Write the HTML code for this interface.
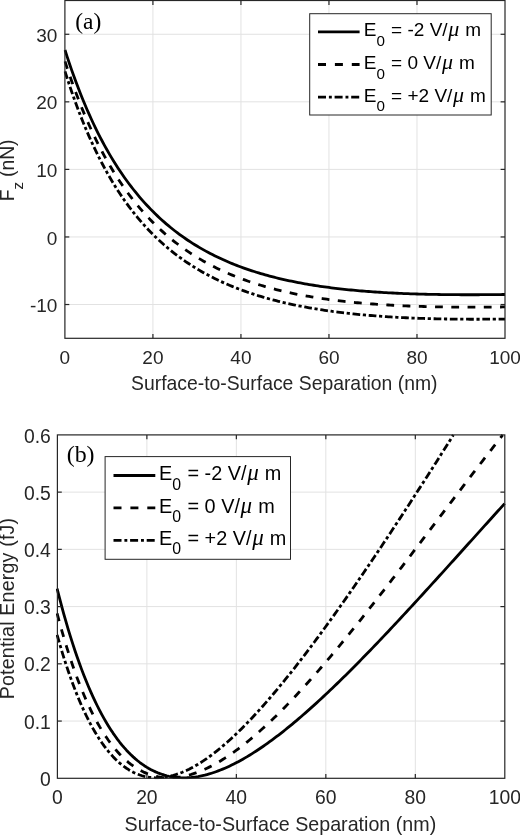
<!DOCTYPE html>
<html><head><meta charset="utf-8"><title>Figure</title>
<style>
html,body{margin:0;padding:0;background:#fff;}
svg{display:block;}
text{font-family:"Liberation Sans",sans-serif;fill:#262626;}
.pa .tk{font-size:19px;}
.pa .lb{font-size:19.35px;}
.pa .lg{font-size:19px;}
.pa .sb{font-size:15.2px;}
.pa .mu{font-size:22px;}
.pa .pl{font-size:23.5px;}
.pb .tk{font-size:19.32px;}
.pb .lb{font-size:19.68px;}
.pb .lg{font-size:19.85px;}
.pb .sb{font-size:15.88px;}
.pb .mu{font-size:22.99px;}
.pb .pl{font-size:23.90px;}
.lg{fill:#000;}
.mu{font-family:"Liberation Serif","DejaVu Serif",serif;font-style:italic;}
.pl{font-family:"Liberation Serif",serif;fill:#000;}
.ax{stroke:#262626;stroke-width:1.2;fill:none;}
.gr{stroke:#e2e2e2;stroke-width:1;fill:none;}
.cv{stroke:#000;stroke-width:2.8;fill:none;stroke-linejoin:round;}
</style></head><body>
<svg width="520" height="835" viewBox="0 0 520 835">
<rect width="520" height="835" fill="#fff"/>
<g class="pa">
<line class="gr" x1="152.92" x2="152.92" y1="0.50" y2="338.30"/>
<line class="gr" x1="240.94" x2="240.94" y1="0.50" y2="338.30"/>
<line class="gr" x1="328.96" x2="328.96" y1="0.50" y2="338.30"/>
<line class="gr" x1="416.98" x2="416.98" y1="0.50" y2="338.30"/>
<line class="gr" y1="304.52" y2="304.52" x1="64.90" x2="505.00"/>
<line class="gr" y1="236.96" y2="236.96" x1="64.90" x2="505.00"/>
<line class="gr" y1="169.40" y2="169.40" x1="64.90" x2="505.00"/>
<line class="gr" y1="101.84" y2="101.84" x1="64.90" x2="505.00"/>
<line class="gr" y1="34.28" y2="34.28" x1="64.90" x2="505.00"/>
<clipPath id="ca"><rect x="63.40" y="-0.50" width="443.10" height="339.80"/></clipPath>
<g clip-path="url(#ca)">
<path class="cv" d="M65.00,50.04 L67.20,56.85 L69.40,63.45 L71.60,69.84 L73.80,76.03 L76.00,82.03 L78.20,87.85 L80.40,93.50 L82.60,98.97 L84.80,104.28 L87.00,109.43 L89.20,114.43 L91.40,119.28 L93.60,123.99 L95.80,128.57 L98.00,133.01 L100.20,137.32 L102.40,141.51 L104.60,145.58 L106.80,149.53 L109.00,153.37 L111.20,157.11 L113.40,160.74 L115.60,164.26 L117.80,167.70 L120.00,171.03 L122.20,174.28 L124.40,177.44 L126.60,180.51 L128.80,183.50 L131.00,186.41 L133.20,189.24 L135.40,191.99 L137.60,194.68 L139.80,197.29 L142.00,199.83 L144.20,202.31 L146.40,204.72 L148.60,207.07 L150.80,209.36 L153.00,211.59 L155.20,213.76 L157.40,215.88 L159.60,217.94 L161.80,219.95 L164.00,221.91 L166.20,223.82 L168.40,225.68 L170.60,227.49 L172.80,229.26 L175.00,230.99 L177.20,232.67 L179.40,234.31 L181.60,235.91 L183.80,237.47 L186.00,238.99 L188.20,240.47 L190.40,241.92 L192.60,243.33 L194.80,244.71 L197.00,246.05 L199.20,247.36 L201.40,248.64 L203.60,249.89 L205.80,251.11 L208.00,252.29 L210.20,253.45 L212.40,254.58 L214.60,255.69 L216.80,256.76 L219.00,257.81 L221.20,258.84 L223.40,259.84 L225.60,260.81 L227.80,261.77 L230.00,262.69 L232.20,263.60 L234.40,264.49 L236.60,265.35 L238.80,266.19 L241.00,267.01 L243.20,267.81 L245.40,268.60 L247.60,269.36 L249.80,270.11 L252.00,270.83 L254.20,271.54 L256.40,272.23 L258.60,272.91 L260.80,273.57 L263.00,274.21 L265.20,274.83 L267.40,275.44 L269.60,276.04 L271.80,276.62 L274.00,277.19 L276.20,277.74 L278.40,278.28 L280.60,278.80 L282.80,279.32 L285.00,279.81 L287.20,280.30 L289.40,280.78 L291.60,281.24 L293.80,281.69 L296.00,282.13 L298.20,282.55 L300.40,282.97 L302.60,283.38 L304.80,283.77 L307.00,284.16 L309.20,284.53 L311.40,284.90 L313.60,285.25 L315.80,285.60 L318.00,285.93 L320.20,286.26 L322.40,286.58 L324.60,286.89 L326.80,287.19 L329.00,287.48 L331.20,287.77 L333.40,288.04 L335.60,288.31 L337.80,288.57 L340.00,288.83 L342.20,289.07 L344.40,289.31 L346.60,289.54 L348.80,289.77 L351.00,289.99 L353.20,290.20 L355.40,290.40 L357.60,290.60 L359.80,290.80 L362.00,290.98 L364.20,291.16 L366.40,291.34 L368.60,291.51 L370.80,291.67 L373.00,291.83 L375.20,291.98 L377.40,292.13 L379.60,292.27 L381.80,292.41 L384.00,292.54 L386.20,292.67 L388.40,292.79 L390.60,292.91 L392.80,293.02 L395.00,293.13 L397.20,293.24 L399.40,293.34 L401.60,293.44 L403.80,293.53 L406.00,293.62 L408.20,293.70 L410.40,293.78 L412.60,293.86 L414.80,293.93 L417.00,294.00 L419.20,294.07 L421.40,294.13 L423.60,294.19 L425.80,294.24 L428.00,294.29 L430.20,294.34 L432.40,294.39 L434.60,294.43 L436.80,294.47 L439.00,294.51 L441.20,294.54 L443.40,294.57 L445.60,294.60 L447.80,294.63 L450.00,294.65 L452.20,294.67 L454.40,294.69 L456.60,294.70 L458.80,294.72 L461.00,294.73 L463.20,294.74 L465.40,294.74 L467.60,294.74 L469.80,294.75 L472.00,294.74 L474.20,294.74 L476.40,294.74 L478.60,294.73 L480.80,294.72 L483.00,294.71 L485.20,294.69 L487.40,294.68 L489.60,294.66 L491.80,294.64 L494.00,294.62 L496.20,294.60 L498.40,294.58 L500.60,294.55 L502.80,294.52 L505.00,294.49"/>
<path class="cv" d="M65.00,61.34 L67.20,68.08 L69.40,74.62 L71.60,80.95 L73.80,87.10 L76.00,93.05 L78.20,98.83 L80.40,104.44 L82.60,109.88 L84.80,115.16 L87.00,120.28 L89.20,125.25 L91.40,130.08 L93.60,134.77 L95.80,139.33 L98.00,143.76 L100.20,148.06 L102.40,152.23 L104.60,156.30 L106.80,160.24 L109.00,164.08 L111.20,167.81 L113.40,171.44 L115.60,174.97 L117.80,178.41 L120.00,181.75 L122.20,185.00 L124.40,188.16 L126.60,191.24 L128.80,194.24 L131.00,197.16 L133.20,200.00 L135.40,202.76 L137.60,205.46 L139.80,208.08 L142.00,210.64 L144.20,213.13 L146.40,215.56 L148.60,217.92 L150.80,220.22 L153.00,222.47 L155.20,224.66 L157.40,226.79 L159.60,228.87 L161.80,230.89 L164.00,232.87 L166.20,234.80 L168.40,236.68 L170.60,238.51 L172.80,240.29 L175.00,242.04 L177.20,243.74 L179.40,245.39 L181.60,247.01 L183.80,248.59 L186.00,250.13 L188.20,251.63 L190.40,253.10 L192.60,254.53 L194.80,255.92 L197.00,257.28 L199.20,258.61 L201.40,259.91 L203.60,261.17 L205.80,262.41 L208.00,263.61 L210.20,264.79 L212.40,265.93 L214.60,267.05 L216.80,268.15 L219.00,269.21 L221.20,270.26 L223.40,271.27 L225.60,272.26 L227.80,273.23 L230.00,274.18 L232.20,275.10 L234.40,276.00 L236.60,276.88 L238.80,277.74 L241.00,278.57 L243.20,279.39 L245.40,280.19 L247.60,280.97 L249.80,281.73 L252.00,282.47 L254.20,283.19 L256.40,283.90 L258.60,284.58 L260.80,285.26 L263.00,285.91 L265.20,286.55 L267.40,287.18 L269.60,287.78 L271.80,288.38 L274.00,288.96 L276.20,289.52 L278.40,290.07 L280.60,290.61 L282.80,291.13 L285.00,291.65 L287.20,292.14 L289.40,292.63 L291.60,293.10 L293.80,293.56 L296.00,294.01 L298.20,294.45 L300.40,294.88 L302.60,295.30 L304.80,295.70 L307.00,296.10 L309.20,296.48 L311.40,296.86 L313.60,297.22 L315.80,297.58 L318.00,297.92 L320.20,298.26 L322.40,298.59 L324.60,298.90 L326.80,299.21 L329.00,299.52 L331.20,299.81 L333.40,300.09 L335.60,300.37 L337.80,300.64 L340.00,300.90 L342.20,301.16 L344.40,301.40 L346.60,301.64 L348.80,301.88 L351.00,302.10 L353.20,302.32 L355.40,302.54 L357.60,302.74 L359.80,302.94 L362.00,303.14 L364.20,303.32 L366.40,303.51 L368.60,303.68 L370.80,303.85 L373.00,304.02 L375.20,304.18 L377.40,304.33 L379.60,304.48 L381.80,304.62 L384.00,304.76 L386.20,304.89 L388.40,305.02 L390.60,305.15 L392.80,305.27 L395.00,305.38 L397.20,305.49 L399.40,305.60 L401.60,305.70 L403.80,305.80 L406.00,305.89 L408.20,305.98 L410.40,306.07 L412.60,306.15 L414.80,306.23 L417.00,306.30 L419.20,306.37 L421.40,306.44 L423.60,306.50 L425.80,306.56 L428.00,306.62 L430.20,306.67 L432.40,306.72 L434.60,306.77 L436.80,306.81 L439.00,306.86 L441.20,306.89 L443.40,306.93 L445.60,306.96 L447.80,306.99 L450.00,307.02 L452.20,307.04 L454.40,307.06 L456.60,307.08 L458.80,307.10 L461.00,307.11 L463.20,307.13 L465.40,307.13 L467.60,307.14 L469.80,307.15 L472.00,307.15 L474.20,307.15 L476.40,307.15 L478.60,307.14 L480.80,307.14 L483.00,307.13 L485.20,307.12 L487.40,307.11 L489.60,307.09 L491.80,307.08 L494.00,307.06 L496.20,307.04 L498.40,307.02 L500.60,307.00 L502.80,306.97 L505.00,306.95" stroke-dasharray="7.8 8.45"/>
<path class="cv" d="M65.00,71.40 L67.20,78.30 L69.40,84.98 L71.60,91.45 L73.80,97.73 L76.00,103.81 L78.20,109.70 L80.40,115.42 L82.60,120.97 L84.80,126.34 L87.00,131.56 L89.20,136.62 L91.40,141.53 L93.60,146.30 L95.80,150.92 L98.00,155.41 L100.20,159.77 L102.40,164.00 L104.60,168.11 L106.80,172.10 L109.00,175.98 L111.20,179.75 L113.40,183.41 L115.60,186.97 L117.80,190.42 L120.00,193.78 L122.20,197.05 L124.40,200.22 L126.60,203.31 L128.80,206.32 L131.00,209.24 L133.20,212.08 L135.40,214.84 L137.60,217.53 L139.80,220.15 L142.00,222.70 L144.20,225.18 L146.40,227.59 L148.60,229.94 L150.80,232.23 L153.00,234.46 L155.20,236.63 L157.40,238.75 L159.60,240.81 L161.80,242.81 L164.00,244.77 L166.20,246.68 L168.40,248.53 L170.60,250.34 L172.80,252.11 L175.00,253.83 L177.20,255.50 L179.40,257.14 L181.60,258.73 L183.80,260.29 L186.00,261.80 L188.20,263.28 L190.40,264.73 L192.60,266.13 L194.80,267.51 L197.00,268.85 L199.20,270.15 L201.40,271.43 L203.60,272.67 L205.80,273.89 L208.00,275.07 L210.20,276.23 L212.40,277.36 L214.60,278.46 L216.80,279.54 L219.00,280.59 L221.20,281.62 L223.40,282.62 L225.60,283.60 L227.80,284.55 L230.00,285.48 L232.20,286.40 L234.40,287.28 L236.60,288.15 L238.80,289.00 L241.00,289.83 L243.20,290.64 L245.40,291.43 L247.60,292.20 L249.80,292.95 L252.00,293.69 L254.20,294.41 L256.40,295.11 L258.60,295.79 L260.80,296.46 L263.00,297.12 L265.20,297.76 L267.40,298.38 L269.60,298.99 L271.80,299.58 L274.00,300.16 L276.20,300.73 L278.40,301.29 L280.60,301.83 L282.80,302.35 L285.00,302.87 L287.20,303.37 L289.40,303.86 L291.60,304.34 L293.80,304.81 L296.00,305.27 L298.20,305.71 L300.40,306.15 L302.60,306.57 L304.80,306.99 L307.00,307.39 L309.20,307.79 L311.40,308.17 L313.60,308.55 L315.80,308.91 L318.00,309.27 L320.20,309.62 L322.40,309.95 L324.60,310.29 L326.80,310.61 L329.00,310.92 L331.20,311.23 L333.40,311.52 L335.60,311.81 L337.80,312.10 L340.00,312.37 L342.20,312.64 L344.40,312.90 L346.60,313.15 L348.80,313.40 L351.00,313.64 L353.20,313.87 L355.40,314.10 L357.60,314.32 L359.80,314.53 L362.00,314.74 L364.20,314.94 L366.40,315.14 L368.60,315.33 L370.80,315.51 L373.00,315.69 L375.20,315.86 L377.40,316.03 L379.60,316.19 L381.80,316.35 L384.00,316.50 L386.20,316.64 L388.40,316.79 L390.60,316.92 L392.80,317.06 L395.00,317.18 L397.20,317.31 L399.40,317.42 L401.60,317.54 L403.80,317.65 L406.00,317.75 L408.20,317.85 L410.40,317.95 L412.60,318.04 L414.80,318.13 L417.00,318.22 L419.20,318.30 L421.40,318.37 L423.60,318.45 L425.80,318.52 L428.00,318.58 L430.20,318.64 L432.40,318.70 L434.60,318.76 L436.80,318.81 L439.00,318.86 L441.20,318.91 L443.40,318.95 L445.60,318.99 L447.80,319.02 L450.00,319.06 L452.20,319.09 L454.40,319.12 L456.60,319.14 L458.80,319.16 L461.00,319.18 L463.20,319.20 L465.40,319.21 L467.60,319.22 L469.80,319.23 L472.00,319.23 L474.20,319.24 L476.40,319.24 L478.60,319.24 L480.80,319.23 L483.00,319.22 L485.20,319.22 L487.40,319.20 L489.60,319.19 L491.80,319.18 L494.00,319.16 L496.20,319.14 L498.40,319.12 L500.60,319.09 L502.80,319.06 L505.00,319.04" stroke-dasharray="7.7 2.65 3.2 2.7"/>
</g>
<rect class="ax" x="64.90" y="0.50" width="440.10" height="337.80"/>
<text class="tk" text-anchor="middle" x="64.90" y="364.40">0</text>
<line class="ax" x1="152.92" x2="152.92" y1="338.30" y2="333.90"/>
<line class="ax" x1="152.92" x2="152.92" y1="0.50" y2="4.90"/>
<text class="tk" text-anchor="middle" x="152.92" y="364.40">20</text>
<line class="ax" x1="240.94" x2="240.94" y1="338.30" y2="333.90"/>
<line class="ax" x1="240.94" x2="240.94" y1="0.50" y2="4.90"/>
<text class="tk" text-anchor="middle" x="240.94" y="364.40">40</text>
<line class="ax" x1="328.96" x2="328.96" y1="338.30" y2="333.90"/>
<line class="ax" x1="328.96" x2="328.96" y1="0.50" y2="4.90"/>
<text class="tk" text-anchor="middle" x="328.96" y="364.40">60</text>
<line class="ax" x1="416.98" x2="416.98" y1="338.30" y2="333.90"/>
<line class="ax" x1="416.98" x2="416.98" y1="0.50" y2="4.90"/>
<text class="tk" text-anchor="middle" x="416.98" y="364.40">80</text>
<text class="tk" text-anchor="middle" x="505.00" y="364.40">100</text>
<line class="ax" x1="64.90" x2="69.30" y1="304.52" y2="304.52"/>
<line class="ax" x1="505.00" x2="500.60" y1="304.52" y2="304.52"/>
<text class="tk" text-anchor="end" x="57.40" y="312.12">-10</text>
<line class="ax" x1="64.90" x2="69.30" y1="236.96" y2="236.96"/>
<line class="ax" x1="505.00" x2="500.60" y1="236.96" y2="236.96"/>
<text class="tk" text-anchor="end" x="57.40" y="244.56">0</text>
<line class="ax" x1="64.90" x2="69.30" y1="169.40" y2="169.40"/>
<line class="ax" x1="505.00" x2="500.60" y1="169.40" y2="169.40"/>
<text class="tk" text-anchor="end" x="57.40" y="177.00">10</text>
<line class="ax" x1="64.90" x2="69.30" y1="101.84" y2="101.84"/>
<line class="ax" x1="505.00" x2="500.60" y1="101.84" y2="101.84"/>
<text class="tk" text-anchor="end" x="57.40" y="109.44">20</text>
<line class="ax" x1="64.90" x2="69.30" y1="34.28" y2="34.28"/>
<line class="ax" x1="505.00" x2="500.60" y1="34.28" y2="34.28"/>
<text class="tk" text-anchor="end" x="57.40" y="41.88">30</text>
<text class="lb" text-anchor="middle" x="284.25" y="390.25">Surface-to-Surface Separation (nm)</text>
<text class="lb" text-anchor="middle" transform="translate(14.10,170.40) rotate(-90)">F<tspan dy="9" font-size="15.2px">z</tspan><tspan dy="-9" dx="-0.5"> (nN)</tspan></text>
<text class="pl" x="75.3" y="29">(a)</text>
<rect x="309.70" y="13.70" width="181.50" height="101.30" fill="#fff" stroke="#262626" stroke-width="1"/>
<line class="cv" x1="318.00" x2="359.60" y1="31.80" y2="31.80"/>
<text class="lg" x="363.70" y="36.40">E<tspan class="sb" dy="9.5">0</tspan><tspan dy="-9.5" dx="1"> = -2 V/</tspan><tspan class="mu" dx="0.7">μ</tspan><tspan dx="0.6"> m</tspan></text>
<line class="cv" x1="318.00" x2="359.60" y1="64.50" y2="64.50" stroke-dasharray="8 8.9"/>
<text class="lg" x="363.70" y="69.10">E<tspan class="sb" dy="9.5">0</tspan><tspan dy="-9.5" dx="1"> = 0 V/</tspan><tspan class="mu" dx="0.7">μ</tspan><tspan dx="0.6"> m</tspan></text>
<line class="cv" x1="318.00" x2="359.60" y1="97.20" y2="97.20" stroke-dasharray="8 2.9 2.9 2.8"/>
<text class="lg" x="363.70" y="101.80">E<tspan class="sb" dy="9.5">0</tspan><tspan dy="-9.5" dx="1"> = +2 V/</tspan><tspan class="mu" dx="0.7">μ</tspan><tspan dx="0.6"> m</tspan></text>
</g>
<g class="pb">
<line class="gr" x1="146.88" x2="146.88" y1="434.90" y2="778.30"/>
<line class="gr" x1="236.36" x2="236.36" y1="434.90" y2="778.30"/>
<line class="gr" x1="325.84" x2="325.84" y1="434.90" y2="778.30"/>
<line class="gr" x1="415.32" x2="415.32" y1="434.90" y2="778.30"/>
<line class="gr" y1="721.07" y2="721.07" x1="57.40" x2="504.80"/>
<line class="gr" y1="663.83" y2="663.83" x1="57.40" x2="504.80"/>
<line class="gr" y1="606.60" y2="606.60" x1="57.40" x2="504.80"/>
<line class="gr" y1="549.37" y2="549.37" x1="57.40" x2="504.80"/>
<line class="gr" y1="492.13" y2="492.13" x1="57.40" x2="504.80"/>
<clipPath id="cb"><rect x="55.90" y="433.90" width="450.40" height="345.40"/></clipPath>
<g clip-path="url(#cb)">
<path class="cv" d="M57.10,588.70 L59.34,597.46 L61.58,605.92 L63.81,614.08 L66.05,621.95 L68.29,629.54 L70.53,636.86 L72.76,643.91 L75.00,650.71 L77.24,657.25 L79.47,663.55 L81.71,669.62 L83.95,675.45 L86.19,681.06 L88.43,686.46 L90.66,691.64 L92.90,696.62 L95.14,701.40 L97.38,705.99 L99.61,710.38 L101.85,714.59 L104.09,718.63 L106.33,722.49 L108.56,726.18 L110.80,729.71 L113.04,733.08 L115.28,736.29 L117.51,739.35 L119.75,742.27 L121.99,745.04 L124.22,747.67 L126.46,750.17 L128.70,752.54 L130.94,754.78 L133.18,756.89 L135.41,758.88 L137.65,760.76 L139.89,762.52 L142.12,764.17 L144.36,765.71 L146.60,767.14 L148.84,768.48 L151.07,769.71 L153.31,770.84 L155.55,771.88 L157.79,772.83 L160.03,773.68 L162.26,774.45 L164.50,775.14 L166.74,775.74 L168.97,776.26 L171.21,776.70 L173.45,777.06 L175.69,777.35 L177.93,777.57 L180.16,777.71 L182.40,777.79 L184.64,777.80 L186.87,777.74 L189.11,777.62 L191.35,777.44 L193.59,777.19 L195.82,776.89 L198.06,776.53 L200.30,776.11 L202.54,775.64 L204.78,775.12 L207.01,774.54 L209.25,773.91 L211.49,773.23 L213.72,772.51 L215.96,771.74 L218.20,770.92 L220.44,770.06 L222.67,769.15 L224.91,768.20 L227.15,767.21 L229.39,766.18 L231.62,765.11 L233.86,764.00 L236.10,762.85 L238.34,761.67 L240.57,760.45 L242.81,759.20 L245.05,757.91 L247.29,756.59 L249.52,755.24 L251.76,753.85 L254.00,752.44 L256.24,750.99 L258.48,749.52 L260.71,748.01 L262.95,746.48 L265.19,744.92 L267.43,743.33 L269.66,741.72 L271.90,740.09 L274.14,738.42 L276.38,736.74 L278.61,735.03 L280.85,733.29 L283.09,731.54 L285.32,729.76 L287.56,727.96 L289.80,726.14 L292.04,724.30 L294.28,722.44 L296.51,720.56 L298.75,718.66 L300.99,716.75 L303.23,714.81 L305.46,712.86 L307.70,710.89 L309.94,708.90 L312.18,706.90 L314.41,704.88 L316.65,702.84 L318.89,700.79 L321.12,698.73 L323.36,696.65 L325.60,694.55 L327.84,692.45 L330.07,690.32 L332.31,688.19 L334.55,686.04 L336.79,683.88 L339.03,681.71 L341.26,679.53 L343.50,677.33 L345.74,675.13 L347.98,672.91 L350.21,670.68 L352.45,668.44 L354.69,666.19 L356.93,663.93 L359.16,661.67 L361.40,659.39 L363.64,657.10 L365.88,654.81 L368.11,652.50 L370.35,650.19 L372.59,647.87 L374.82,645.54 L377.06,643.20 L379.30,640.86 L381.54,638.51 L383.78,636.15 L386.01,633.79 L388.25,631.42 L390.49,629.04 L392.73,626.66 L394.96,624.27 L397.20,621.87 L399.44,619.47 L401.68,617.07 L403.91,614.66 L406.15,612.24 L408.39,609.82 L410.63,607.40 L412.86,604.97 L415.10,602.53 L417.34,600.09 L419.58,597.65 L421.81,595.21 L424.05,592.76 L426.29,590.31 L428.52,587.85 L430.76,585.40 L433.00,582.93 L435.24,580.47 L437.48,578.01 L439.71,575.54 L441.95,573.07 L444.19,570.59 L446.43,568.12 L448.66,565.64 L450.90,563.17 L453.14,560.69 L455.38,558.21 L457.61,555.73 L459.85,553.24 L462.09,550.76 L464.33,548.28 L466.56,545.79 L468.80,543.31 L471.04,540.82 L473.28,538.34 L475.51,535.86 L477.75,533.37 L479.99,530.89 L482.23,528.40 L484.46,525.92 L486.70,523.44 L488.94,520.96 L491.18,518.48 L493.41,516.00 L495.65,513.52 L497.89,511.04 L500.12,508.57 L502.36,506.09 L504.60,503.62"/>
<path class="cv" d="M57.10,613.32 L59.34,621.71 L61.58,629.78 L63.81,637.54 L66.05,645.01 L68.29,652.18 L70.53,659.08 L72.76,665.70 L75.00,672.06 L77.24,678.16 L79.47,684.01 L81.71,689.63 L83.95,695.00 L86.19,700.15 L88.43,705.08 L90.66,709.80 L92.90,714.31 L95.14,718.61 L97.38,722.72 L99.61,726.64 L101.85,730.38 L104.09,733.93 L106.33,737.31 L108.56,740.52 L110.80,743.57 L113.04,746.46 L115.28,749.19 L117.51,751.77 L119.75,754.21 L121.99,756.50 L124.22,758.65 L126.46,760.67 L128.70,762.56 L130.94,764.32 L133.18,765.96 L135.41,767.48 L137.65,768.88 L139.89,770.16 L142.12,771.34 L144.36,772.40 L146.60,773.37 L148.84,774.23 L151.07,774.99 L153.31,775.65 L155.55,776.22 L157.79,776.70 L160.03,777.09 L162.26,777.39 L164.50,777.61 L166.74,777.74 L168.97,777.80 L171.21,777.77 L173.45,777.67 L175.69,777.50 L177.93,777.25 L180.16,776.94 L182.40,776.55 L184.64,776.10 L186.87,775.58 L189.11,774.99 L191.35,774.35 L193.59,773.64 L195.82,772.88 L198.06,772.05 L200.30,771.17 L202.54,770.24 L204.78,769.25 L207.01,768.21 L209.25,767.12 L211.49,765.98 L213.72,764.79 L215.96,763.55 L218.20,762.27 L220.44,760.94 L222.67,759.56 L224.91,758.14 L227.15,756.69 L229.39,755.18 L231.62,753.64 L233.86,752.06 L236.10,750.44 L238.34,748.79 L240.57,747.09 L242.81,745.36 L245.05,743.60 L247.29,741.80 L249.52,739.97 L251.76,738.10 L254.00,736.21 L256.24,734.28 L258.48,732.32 L260.71,730.33 L262.95,728.31 L265.19,726.27 L267.43,724.19 L269.66,722.09 L271.90,719.96 L274.14,717.81 L276.38,715.63 L278.61,713.42 L280.85,711.20 L283.09,708.94 L285.32,706.67 L287.56,704.37 L289.80,702.05 L292.04,699.71 L294.28,697.34 L296.51,694.96 L298.75,692.55 L300.99,690.13 L303.23,687.69 L305.46,685.23 L307.70,682.74 L309.94,680.25 L312.18,677.73 L314.41,675.20 L316.65,672.65 L318.89,670.08 L321.12,667.50 L323.36,664.91 L325.60,662.29 L327.84,659.67 L330.07,657.03 L332.31,654.37 L334.55,651.71 L336.79,649.03 L339.03,646.33 L341.26,643.63 L343.50,640.91 L345.74,638.18 L347.98,635.44 L350.21,632.69 L352.45,629.92 L354.69,627.15 L356.93,624.37 L359.16,621.57 L361.40,618.77 L363.64,615.96 L365.88,613.14 L368.11,610.31 L370.35,607.47 L372.59,604.63 L374.82,601.78 L377.06,598.92 L379.30,596.05 L381.54,593.18 L383.78,590.30 L386.01,587.41 L388.25,584.52 L390.49,581.63 L392.73,578.72 L394.96,575.82 L397.20,572.91 L399.44,569.99 L401.68,567.07 L403.91,564.14 L406.15,561.22 L408.39,558.29 L410.63,555.35 L412.86,552.41 L415.10,549.47 L417.34,546.53 L419.58,543.59 L421.81,540.64 L424.05,537.70 L426.29,534.75 L428.52,531.80 L430.76,528.85 L433.00,525.90 L435.24,522.94 L437.48,519.99 L439.71,517.04 L441.95,514.09 L444.19,511.14 L446.43,508.19 L448.66,505.24 L450.90,502.30 L453.14,499.35 L455.38,496.41 L457.61,493.47 L459.85,490.53 L462.09,487.59 L464.33,484.66 L466.56,481.73 L468.80,478.80 L471.04,475.88 L473.28,472.96 L475.51,470.05 L477.75,467.14 L479.99,464.23 L482.23,461.33 L484.46,458.43 L486.70,455.54 L488.94,452.65 L491.18,449.77 L493.41,446.90 L495.65,444.03 L497.89,441.17 L500.12,438.31 L502.36,435.46 L502.73,435.00" stroke-dasharray="7.97 8.6"/>
<path class="cv" d="M57.10,634.94 L59.34,642.78 L61.58,650.32 L63.81,657.56 L66.05,664.52 L68.29,671.20 L70.53,677.61 L72.76,683.76 L75.00,689.65 L77.24,695.29 L79.47,700.69 L81.71,705.86 L83.95,710.79 L86.19,715.50 L88.43,720.00 L90.66,724.28 L92.90,728.36 L95.14,732.23 L97.38,735.92 L99.61,739.41 L101.85,742.72 L104.09,745.84 L106.33,748.80 L108.56,751.58 L110.80,754.20 L113.04,756.65 L115.28,758.95 L117.51,761.10 L119.75,763.10 L121.99,764.95 L124.22,766.66 L126.46,768.24 L128.70,769.68 L130.94,770.99 L133.18,772.18 L135.41,773.24 L137.65,774.19 L139.89,775.01 L142.12,775.73 L144.36,776.33 L146.60,776.83 L148.84,777.22 L151.07,777.51 L153.31,777.70 L155.55,777.79 L157.79,777.79 L160.03,777.70 L162.26,777.51 L164.50,777.25 L166.74,776.89 L168.97,776.46 L171.21,775.94 L173.45,775.35 L175.69,774.68 L177.93,773.94 L180.16,773.12 L182.40,772.24 L184.64,771.28 L186.87,770.26 L189.11,769.18 L191.35,768.03 L193.59,766.82 L195.82,765.55 L198.06,764.22 L200.30,762.83 L202.54,761.39 L204.78,759.90 L207.01,758.35 L209.25,756.75 L211.49,755.10 L213.72,753.41 L215.96,751.66 L218.20,749.87 L220.44,748.03 L222.67,746.16 L224.91,744.23 L227.15,742.27 L229.39,740.26 L231.62,738.22 L233.86,736.14 L236.10,734.01 L238.34,731.86 L240.57,729.66 L242.81,727.44 L245.05,725.17 L247.29,722.88 L249.52,720.55 L251.76,718.19 L254.00,715.80 L256.24,713.38 L258.48,710.93 L260.71,708.45 L262.95,705.95 L265.19,703.41 L267.43,700.85 L269.66,698.27 L271.90,695.66 L274.14,693.02 L276.38,690.36 L278.61,687.68 L280.85,684.97 L283.09,682.25 L285.32,679.49 L287.56,676.72 L289.80,673.93 L292.04,671.12 L294.28,668.29 L296.51,665.43 L298.75,662.56 L300.99,659.67 L303.23,656.76 L305.46,653.84 L307.70,650.90 L309.94,647.94 L312.18,644.96 L314.41,641.97 L316.65,638.96 L318.89,635.94 L321.12,632.90 L323.36,629.84 L325.60,626.78 L327.84,623.69 L330.07,620.60 L332.31,617.49 L334.55,614.37 L336.79,611.23 L339.03,608.08 L341.26,604.92 L343.50,601.75 L345.74,598.57 L347.98,595.37 L350.21,592.16 L352.45,588.94 L354.69,585.71 L356.93,582.47 L359.16,579.22 L361.40,575.96 L363.64,572.69 L365.88,569.41 L368.11,566.12 L370.35,562.82 L372.59,559.51 L374.82,556.19 L377.06,552.86 L379.30,549.52 L381.54,546.18 L383.78,542.82 L386.01,539.46 L388.25,536.09 L390.49,532.71 L392.73,529.33 L394.96,525.93 L397.20,522.53 L399.44,519.12 L401.68,515.71 L403.91,512.28 L406.15,508.85 L408.39,505.42 L410.63,501.97 L412.86,498.52 L415.10,495.06 L417.34,491.60 L419.58,488.13 L421.81,484.65 L424.05,481.17 L426.29,477.68 L428.52,474.18 L430.76,470.68 L433.00,467.18 L435.24,463.66 L437.48,460.14 L439.71,456.62 L441.95,453.09 L444.19,449.56 L446.43,446.02 L448.66,442.47 L450.90,438.92 L453.14,435.36 L453.37,435.00" stroke-dasharray="7.85 2.7 3.25 2.77"/>
</g>
<rect class="ax" x="57.40" y="434.90" width="447.40" height="343.40"/>
<text class="tk" text-anchor="middle" x="57.40" y="804.40">0</text>
<line class="ax" x1="146.88" x2="146.88" y1="778.30" y2="773.90"/>
<line class="ax" x1="146.88" x2="146.88" y1="434.90" y2="439.30"/>
<text class="tk" text-anchor="middle" x="146.88" y="804.40">20</text>
<line class="ax" x1="236.36" x2="236.36" y1="778.30" y2="773.90"/>
<line class="ax" x1="236.36" x2="236.36" y1="434.90" y2="439.30"/>
<text class="tk" text-anchor="middle" x="236.36" y="804.40">40</text>
<line class="ax" x1="325.84" x2="325.84" y1="778.30" y2="773.90"/>
<line class="ax" x1="325.84" x2="325.84" y1="434.90" y2="439.30"/>
<text class="tk" text-anchor="middle" x="325.84" y="804.40">60</text>
<line class="ax" x1="415.32" x2="415.32" y1="778.30" y2="773.90"/>
<line class="ax" x1="415.32" x2="415.32" y1="434.90" y2="439.30"/>
<text class="tk" text-anchor="middle" x="415.32" y="804.40">80</text>
<text class="tk" text-anchor="middle" x="504.80" y="804.40">100</text>
<text class="tk" text-anchor="end" x="50.80" y="785.90">0</text>
<line class="ax" x1="57.40" x2="61.80" y1="721.07" y2="721.07"/>
<line class="ax" x1="504.80" x2="500.40" y1="721.07" y2="721.07"/>
<text class="tk" text-anchor="end" x="50.80" y="728.67">0.1</text>
<line class="ax" x1="57.40" x2="61.80" y1="663.83" y2="663.83"/>
<line class="ax" x1="504.80" x2="500.40" y1="663.83" y2="663.83"/>
<text class="tk" text-anchor="end" x="50.80" y="671.43">0.2</text>
<line class="ax" x1="57.40" x2="61.80" y1="606.60" y2="606.60"/>
<line class="ax" x1="504.80" x2="500.40" y1="606.60" y2="606.60"/>
<text class="tk" text-anchor="end" x="50.80" y="614.20">0.3</text>
<line class="ax" x1="57.40" x2="61.80" y1="549.37" y2="549.37"/>
<line class="ax" x1="504.80" x2="500.40" y1="549.37" y2="549.37"/>
<text class="tk" text-anchor="end" x="50.80" y="556.97">0.4</text>
<line class="ax" x1="57.40" x2="61.80" y1="492.13" y2="492.13"/>
<line class="ax" x1="504.80" x2="500.40" y1="492.13" y2="492.13"/>
<text class="tk" text-anchor="end" x="50.80" y="499.73">0.5</text>
<text class="tk" text-anchor="end" x="50.80" y="442.50">0.6</text>
<text class="lb" text-anchor="middle" x="280.40" y="830.50">Surface-to-Surface Separation (nm)</text>
<text class="lb" text-anchor="middle" textLength="181.5" lengthAdjust="spacing" transform="translate(13.70,608.60) rotate(-90)">Potential Energy (fJ)</text>
<text class="pl" x="66.7" y="461.5">(b)</text>
<rect x="105.10" y="456.60" width="185.40" height="102.70" fill="#fff" stroke="#262626" stroke-width="1"/>
<line class="cv" x1="113.50" x2="155.30" y1="475.50" y2="475.50"/>
<text class="lg" x="158.90" y="480.10">E<tspan class="sb" dy="9.5">0</tspan><tspan dy="-9.5" dx="1"> = -2 V/</tspan><tspan class="mu" dx="0.7">μ</tspan><tspan dx="0.6"> m</tspan></text>
<line class="cv" x1="113.50" x2="155.30" y1="507.90" y2="507.90" stroke-dasharray="8 8.9"/>
<text class="lg" x="158.90" y="512.50">E<tspan class="sb" dy="9.5">0</tspan><tspan dy="-9.5" dx="1"> = 0 V/</tspan><tspan class="mu" dx="0.7">μ</tspan><tspan dx="0.6"> m</tspan></text>
<line class="cv" x1="113.50" x2="155.30" y1="540.30" y2="540.30" stroke-dasharray="8 2.9 2.9 2.8"/>
<text class="lg" x="158.90" y="544.90">E<tspan class="sb" dy="9.5">0</tspan><tspan dy="-9.5" dx="1"> = +2 V/</tspan><tspan class="mu" dx="0.7">μ</tspan><tspan dx="0.6"> m</tspan></text>
</g>
</svg>
</body></html>
